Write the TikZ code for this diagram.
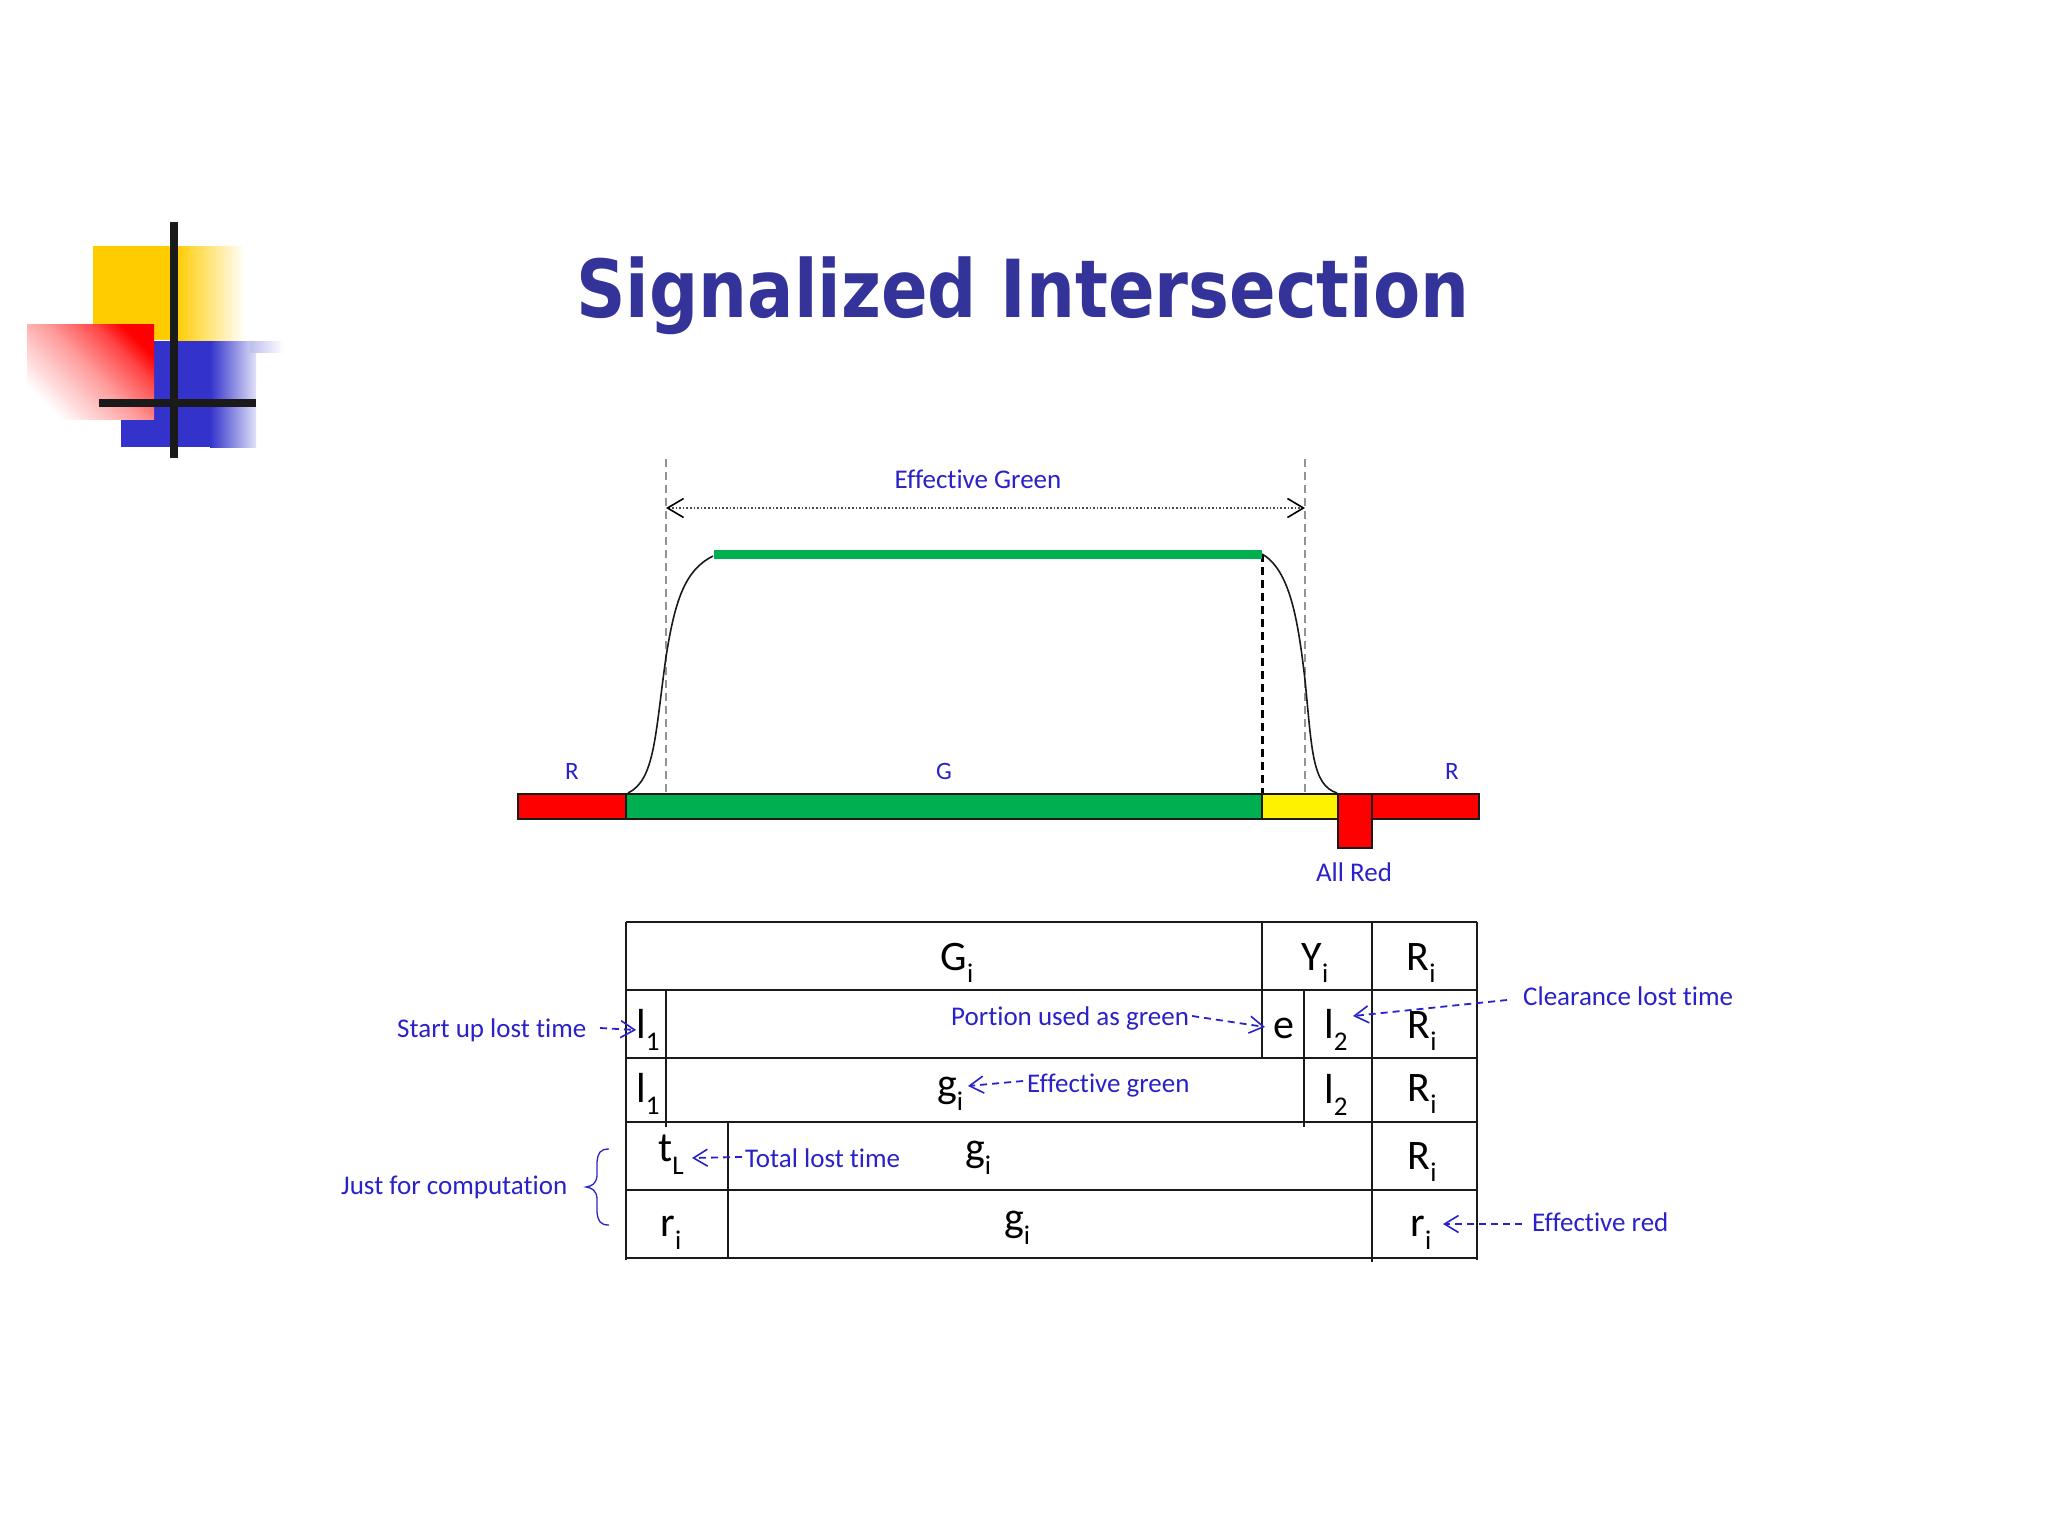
\documentclass[tikz,border=0pt]{standalone}
\usepackage{fontspec}
\setmainfont{Carlito}[Ligatures=NoCommon]
\newfontfamily\titlefont{DejaVu Sans Condensed}[FakeStretch=0.955]
\usetikzlibrary{arrows.meta}
\definecolor{titleblue}{HTML}{333399}
\definecolor{lblblue}{HTML}{2A22C8}
\definecolor{logoyellow}{HTML}{FFCC00}
\definecolor{logoblue}{HTML}{3333CC}
\definecolor{bargreen}{HTML}{00B050}
\definecolor{inkblack}{HTML}{1A1A1A}
\pgfdeclarehorizontalshading{redfade}{100bp}{color(0bp)=(white); color(25bp)=(white); color(50bp)=(red!38!white); color(66bp)=(red!72!white); color(75bp)=(red); color(100bp)=(red)}
\newcommand{\sbt}[2]{#1\raisebox{-0.3em}{\fontsize{27}{27}\selectfont #2}}
\tikzset{
  x=1pt,y=-1pt,
  lbl/.style={font=\fontsize{27}{32}\selectfont,text=lblblue,inner sep=0pt},
  sig/.style={font=\fontsize{25}{30}\selectfont,text=lblblue,inner sep=0pt},
  cell/.style={font=\fontsize{42}{48}\selectfont,text=black,inner sep=0pt},
  tline/.style={draw=inkblack,line width=2pt},
  barbox/.style={draw=inkblack,line width=2pt},
  callout/.style={draw=lblblue,line width=1.8pt,dash pattern=on 7pt off 5pt,
    -{Straight Barb[length=14pt,width=17pt,line width=1.6pt]}},
  guide/.style={draw=gray!85,line width=2.6pt,dash pattern=on 8pt off 5pt},
}
\begin{document}
\begin{tikzpicture}
\useasboundingbox (0,0) rectangle (2048,1536);
\fill[white] (0,0) rectangle (2048,1536);
% logo
\fill[logoyellow] (93,246) rectangle (178,340);
\shade[left color=logoyellow,right color=white] (176,246) rectangle (245,340);
\fill[logoblue] (121,341) rectangle (212,447);
\shade[left color=logoblue,right color=logoblue!15] (210,341) rectangle (256,447);
\shade[left color=logoblue!32,right color=white] (250,341) rectangle (284,352);
\shade[shading=redfade,shading angle=45] (27,324) rectangle (154,419);
\fill[inkblack] (170,222) rectangle (178,458);
\fill[inkblack] (99,399) rectangle (256,407);
% title
\node[inner sep=0pt,text=titleblue,font=\titlefont\bfseries\fontsize{80}{92}\selectfont] (title) at (1023,296) {Signalized Intersection};
% timing bar
\draw[guide] (666,459) -- (666,794);
\draw[guide] (1305,459) -- (1305,794);
\draw[draw=black,line width=3pt,dash pattern=on 8pt off 5pt] (1262,554) -- (1262,794);
\fill[bargreen] (714,550) rectangle (1262,559);
\draw[barbox,fill=red] (518,794) rectangle (626,819);
\draw[barbox,fill=bargreen] (626,794) rectangle (1262,819);
\draw[barbox,fill=yellow] (1262,794) rectangle (1338,819);
\draw[barbox,fill=red] (1372,794) rectangle (1479,819);
\draw[barbox,fill=red] (1338,794) rectangle (1372,848);
\draw[line width=1.6pt,inkblack] (628,793) .. controls (655,780) and (655,735) .. (666,657) .. controls (675,600) and (685,570) .. (713,556);
\draw[line width=1.6pt,inkblack] (1262,554) .. controls (1290,570) and (1298,620) .. (1305,680) .. controls (1312,750) and (1312,785) .. (1337,793);
\coordinate (egl) at (666,508);
\coordinate (egr) at (1305,508);
\draw[draw=black!70,line width=1.6pt,dotted,{Straight Barb[length=16pt,width=19pt,line width=1.6pt,black]}-{Straight Barb[length=16pt,width=19pt,line width=1.6pt,black]}] (egl) -- (egr);
\node[lbl] (egreen) at (978,479) {Effective Green};
\node[sig] (rleft) at (572,771) {R};
\node[sig] (gmid) at (944,771) {G};
\node[sig] (rright) at (1452,771) {R};
\node[lbl] (allred) at (1354,872) {All Red};
% table
\foreach \yy in {922,990,1058,1122,1190,1258} \draw[tline] (626,\yy) -- (1477,\yy);
\draw[tline] (626,922) -- (626,1260);
\draw[tline] (1477,922) -- (1477,1260);
\draw[tline] (1262,922) -- (1262,1058);
\draw[tline] (1372,922) -- (1372,1262);
\draw[tline] (665.5,990) -- (665.5,1127);
\draw[tline] (1304,990) -- (1304,1127);
\draw[tline] (727.5,1122) -- (727.5,1258);
% cells
\node[cell] (c1g) at (957,963) {\sbt{G}{i}};
\node[cell] (c1y) at (1315,963) {\sbt{Y}{i}};
\node[cell] (c1r) at (1421,963) {\sbt{R}{i}};
\node[cell] (c2l) at (648,1030) {\sbt{l}{1}};
\node[cell] (c2e) at (1284,1028) {e};
\node[cell] (c2m) at (1336,1030) {\sbt{l}{2}};
\node[cell] (c2r) at (1422,1031) {\sbt{R}{i}};
\node[cell] (c3l) at (648,1094) {\sbt{l}{1}};
\node[cell] (c3g) at (950,1094) {\sbt{g}{i}};
\node[cell] (c3m) at (1336,1095) {\sbt{l}{2}};
\node[cell] (c3r) at (1422,1094) {\sbt{R}{i}};
\node[cell] (c4t) at (671,1155) {\sbt{t}{L}};
\node[cell] (c4g) at (978,1158) {\sbt{g}{i}};
\node[cell] (c4r) at (1422,1162) {\sbt{R}{i}};
\node[cell] (c5r) at (671,1233) {\sbt{r}{i}};
\node[cell] (c5g) at (1017,1228) {\sbt{g}{i}};
\node[cell] (c5e) at (1421,1233) {\sbt{r}{i}};
% callouts
\node[lbl,anchor=west] (startup) at (397,1030) {Start up lost time};
\node[lbl,anchor=west] (clearance) at (1523,996) {Clearance lost time};
\node[lbl,anchor=west] (portion) at (951,1018) {Portion used as green};
\node[lbl,anchor=west] (effg) at (1027,1086) {Effective green};
\node[lbl,anchor=west] (total) at (745,1158) {Total lost time};
\node[lbl,anchor=west] (just) at (341,1187) {Just for computation};
\node[lbl,anchor=west] (effr) at (1532,1222) {Effective red};
\draw[callout] (600,1028) -- (c2l.west);
\draw[callout] (clearance.west) ++(-16,4) -- (1353,1016);
\draw[callout] (portion.east) ++(3,-2) -- (1265,1027);
\draw[callout] (effg.west) ++(-4,-5) -- (968,1086);
\draw[callout] (total.west) ++(-3,-1) -- (692,1158);
\draw[callout] (effr.west) ++(-10,2) -- (1443,1224);
\draw[draw=lblblue,line width=1.3pt] (609,1149) .. controls (600,1149) and (598,1153) .. (597,1162)
  -- (597,1176) .. controls (596,1184) and (592,1186) .. (586,1187)
  .. controls (592,1188) and (596,1190) .. (597,1198) -- (597,1212)
  .. controls (598,1221) and (600,1225) .. (609,1225);
\end{tikzpicture}
\end{document}
